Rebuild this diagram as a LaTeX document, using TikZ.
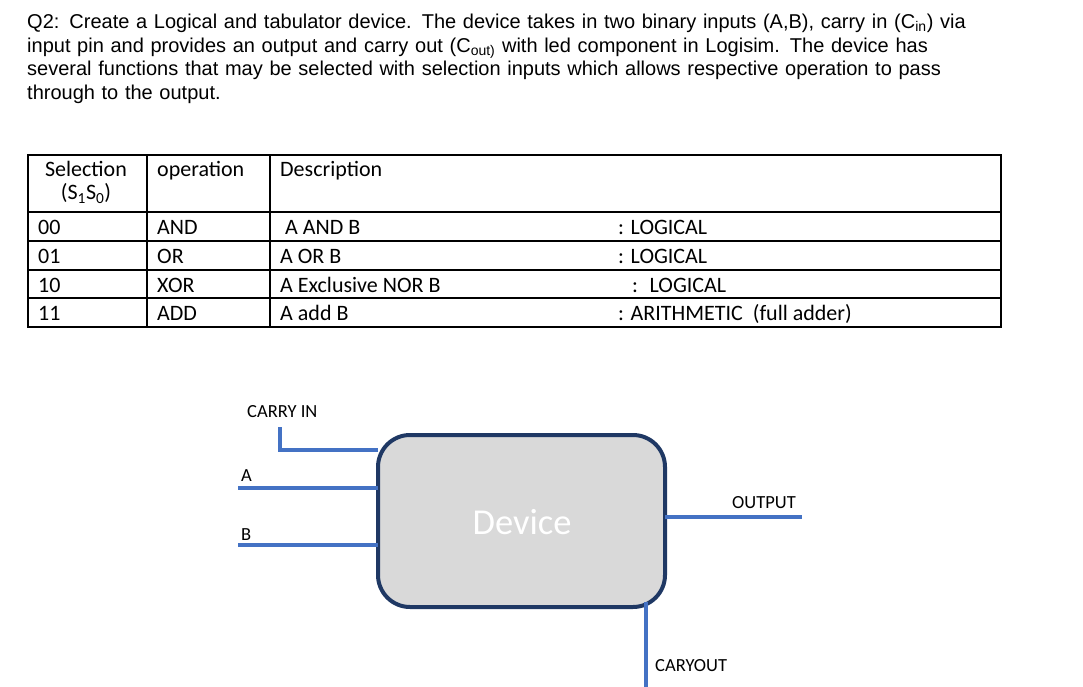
\documentclass[tikz,border=0pt]{standalone}
\usepackage{fontspec}
\setmainfont{Liberation Sans}
\newfontfamily\calfnt{Carlito}
\definecolor{wire}{HTML}{4472C4}
\definecolor{navy}{HTML}{1F3864}
\definecolor{boxfill}{HTML}{D9D9D9}
\begin{document}
\begin{tikzpicture}[x=1pt,y=-1pt,
  tx/.style={anchor=base west,inner sep=0pt,font=\calfnt\fontsize{22}{24}\selectfont},
  lb/.style={anchor=base west,inner sep=0pt,font=\calfnt\fontsize{18.5}{20}\selectfont},
  wr/.style={draw=wire,line width=3.5pt}]
\useasboundingbox (0,0) rectangle (1083,687);
\node[anchor=north west,inner sep=0pt,align=left,font=\fontsize{20}{23.6}\selectfont,text width=1050pt] (q) at (27,14)
{Q2: Create a Logical and tabulator device. The device takes in two binary inputs (A,B), carry in (C\textsubscript{in}) via\\
input pin and provides an output and carry out (C\textsubscript{out)} with led component in Logisim. The device has\\
several functions that may be selected with selection inputs which allows respective operation to pass\\
through to the output.};
% table
\draw[line width=1.2pt] (28,155) rectangle (1001,327);
\foreach \y in {212,241,270,298} \draw[line width=1.2pt] (28,\y) -- (1001,\y);
\draw[line width=1.2pt] (147,155) -- (147,327) (270,155) -- (270,327);
\node[tx,anchor=base] (h1) at (86,177) {Selection};
\node[tx,anchor=base] (h1b) at (86,200) {(S\textsubscript{1}S\textsubscript{0})};
\node[tx] (h2) at (157,177) {operation};
\node[tx] (h3) at (280,177) {Description};
\node[tx] (r1a) at (38,234) {00}; \node[tx] (r1b) at (157,234) {AND}; \node[tx] (r1c) at (285,234) {A AND B}; \node[tx] (r1d) at (618,234) {: LOGICAL};
\node[tx] (r2a) at (38,263) {01}; \node[tx] (r2b) at (157,263) {OR}; \node[tx] (r2c) at (280,263) {A OR B}; \node[tx] (r2d) at (618,263) {: LOGICAL};
\node[tx] (r3a) at (38,292) {10}; \node[tx] (r3b) at (157,292) {XOR}; \node[tx] (r3c) at (280,292) {A Exclusive NOR B}; \node[tx] (r3d) at (632,292) {: \ LOGICAL};
\node[tx] (r4a) at (38,320) {11}; \node[tx] (r4b) at (157,320) {ADD}; \node[tx] (r4c) at (280,320) {A add B}; \node[tx] (r4d) at (618,320) {: ARITHMETIC \ (full adder)};
% device
\draw[draw=navy,fill=boxfill,line width=4pt,rounded corners=32pt] (378,435) rectangle (665,607);
\node[font=\calfnt\fontsize{36.5}{40}\selectfont,text=white] (dev) at (522,522) {Device};
\coordinate (ci0) at (280,427);
\coordinate (ci1) at (378,450);
\draw[wr] (ci0) |- (ci1);
\coordinate (a0) at (238,488); \coordinate (a1) at (378,488);
\coordinate (b0) at (238,545); \coordinate (b1) at (378,545);
\coordinate (o0) at (665,517); \coordinate (o1) at (802,517);
\coordinate (c0) at (646,602); \coordinate (c1) at (646,687);
\draw[wr] (a0) -- (a1); \draw[wr] (b0) -- (b1); \draw[wr] (o0) -- (o1); \draw[wr] (c0) -- (c1);
\node[lb] (lci) at (247,417) {CARRY IN};
\node[lb] (la) at (241,481) {A};
\node[lb] (lbb) at (241,540) {B};
\node[lb] (lo) at (732,508) {OUTPUT};
\node[lb] (lc) at (655,671) {CARYOUT};
\end{tikzpicture}
\end{document}
